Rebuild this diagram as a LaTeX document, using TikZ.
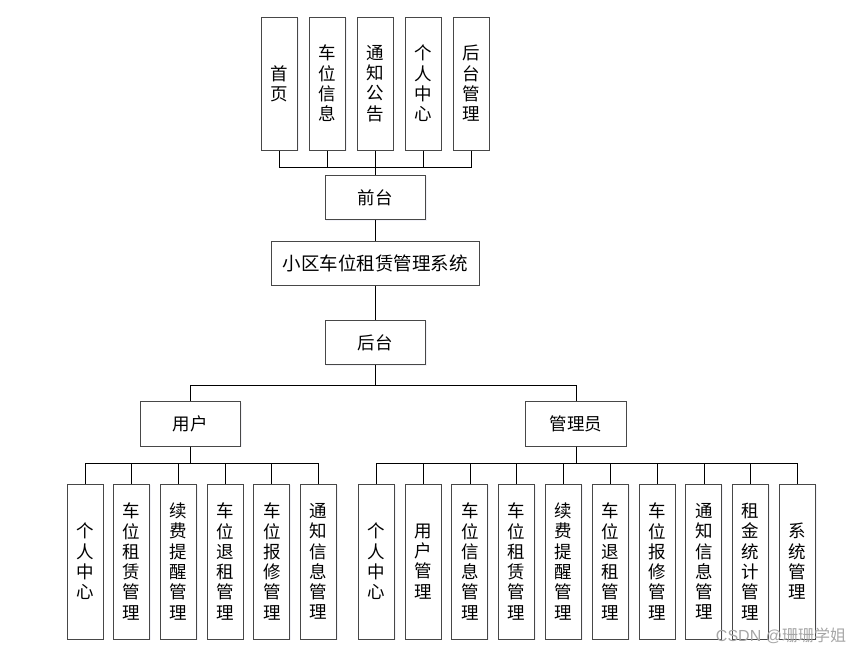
\documentclass[tikz,border=0pt]{standalone}
\usepackage{fontspec}
\setmainfont{Noto Sans CJK SC}
\newfontfamily\wmfont{Liberation Sans}
\usetikzlibrary{shadows}
\begin{document}
\begin{tikzpicture}[x=1pt,y=-1pt,
  boxbase/.style={draw=black!72, line width=1pt, fill=white, inner sep=0pt,
     drop shadow={shadow xshift=1.2pt, shadow yshift=-1.2pt, fill=blue!30!gray!15, opacity=0.5}},
  vbox/.style={boxbase, minimum width=36pt, align=center, font=\fontsize{17.5}{20.3}\selectfont},
  topbox/.style={vbox, minimum height=133pt},
  leafbox/.style={vbox, minimum height=155pt},
  hbox/.style={boxbase, minimum width=100.5pt, minimum height=44.5pt, font=\fontsize{17.5}{20}\selectfont},
  conn/.style={draw=black, line width=0.8pt}
]
\useasboundingbox (0,0) rectangle (865,654);
% top
\node[topbox] (t1) at (279.5,83.5) {首\\页};
\node[topbox] (t2) at (327.3,83.5) {车\\位\\信\\息};
\node[topbox] (t3) at (375.2,83.5) {通\\知\\公\\告};
\node[topbox] (t4) at (423.1,83.5) {个\\人\\中\\心};
\node[topbox] (t5) at (471,83.5) {后\\台\\管\\理};
\node[hbox] (qt) at (375.4,197.5) {前台};
\node[boxbase, minimum width=207.5pt, minimum height=44pt, font=\fontsize{18.5}{22}\selectfont] (sys) at (375.4,263) {小区车位租赁管理系统};
\node[hbox] (ht) at (375.4,342.5) {后台};
\node[hbox] (user) at (190.4,424) {用户};
\node[hbox] (admin) at (575.9,424) {管理员};
% user leaves
\node[leafbox] (u1) at (85,561.5) {个\\人\\中\\心};
\node[leafbox] (u2) at (131.7,561.5) {车\\位\\租\\赁\\管\\理};
\node[leafbox] (u3) at (178.4,561.5) {续\\费\\提\\醒\\管\\理};
\node[leafbox] (u4) at (225.1,561.5) {车\\位\\退\\租\\管\\理};
\node[leafbox] (u5) at (271.8,561.5) {车\\位\\报\\修\\管\\理};
\node[leafbox] (u6) at (318.5,561.5) {通\\知\\信\\息\\管\\理};
% admin leaves
\node[leafbox] (a1) at (376.3,561.5) {个\\人\\中\\心};
\node[leafbox] (a2) at (423.1,561.5) {用\\户\\管\\理};
\node[leafbox] (a3) at (469.9,561.5) {车\\位\\信\\息\\管\\理};
\node[leafbox] (a4) at (516.7,561.5) {车\\位\\租\\赁\\管\\理};
\node[leafbox] (a5) at (563.5,561.5) {续\\费\\提\\醒\\管\\理};
\node[leafbox] (a6) at (610.3,561.5) {车\\位\\退\\租\\管\\理};
\node[leafbox] (a7) at (657.1,561.5) {车\\位\\报\\修\\管\\理};
\node[leafbox] (a8) at (703.9,561.5) {通\\知\\信\\息\\管\\理};
\node[leafbox] (a9) at (750.7,561.5) {租\\金\\统\\计\\管\\理};
\node[leafbox] (a10) at (797.5,561.5) {系\\统\\管\\理};
% connectors
\foreach \i in {1,...,5} \draw[conn] (t\i.south) -- ++(0,17) -| (qt.north);
\draw[conn] (qt.south) -- (sys.north);
\draw[conn] (sys.south) -- (ht.north);
\draw[conn] (ht.south) -- ++(0,20) -| (user.north);
\draw[conn] (ht.south) -- ++(0,20) -| (admin.north);
\foreach \i in {1,...,6} \draw[conn] (user.south) -- ++(0,17) -| (u\i.north);
\foreach \i in {1,...,10} \draw[conn] (admin.south) -- ++(0,17) -| (a\i.north);
% watermark
\node[text=black!35, font=\fontsize{16}{18}\selectfont, anchor=center] (wm) at (781,636) {{\wmfont CSDN @}珊珊学姐};
\end{tikzpicture}
\end{document}
